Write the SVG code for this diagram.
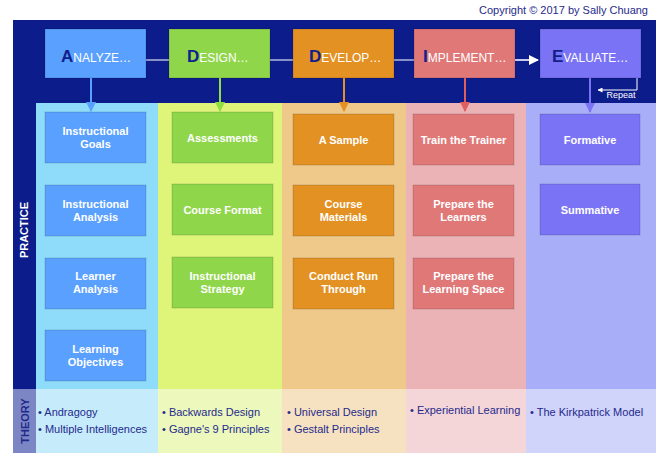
<svg xmlns="http://www.w3.org/2000/svg" width="669" height="468" viewBox="0 0 669 468">
<style>
text{font-family:"Liberation Sans",Arial,sans-serif}
.b{stroke:rgba(0,0,0,0.15);stroke-width:1}
.t{fill:#fff;font-size:11px;font-weight:bold;text-anchor:middle}
.h{fill:#fff;font-size:12px;text-anchor:middle}
.hb{fill:#101f8c;font-size:17px;font-weight:bold}
.th{fill:#1f2a8c;font-size:11px}
.lbl{fill:#fff;font-size:11px;font-weight:bold}
</style>
<defs>
<marker id="ah" viewBox="0 0 10 10" refX="9" refY="5" markerWidth="5" markerHeight="5" orient="auto"><path d="M0,0L10,5L0,10z" fill="context-stroke"/></marker>
<marker id="aw" viewBox="0 0 10 10" refX="9" refY="5" markerWidth="5" markerHeight="5" orient="auto"><path d="M0,0L10,5L0,10z" fill="#fff"/></marker>
</defs>
<rect width="669" height="468" fill="#fff"/>
<text x="648" y="14" font-size="11" fill="#1f2a8c" text-anchor="end">Copyright © 2017 by Sally Chuang</text>
<rect x="13" y="20" width="643" height="370" fill="#0c1c8a"/>
<rect x="13" y="389" width="23" height="64" fill="#7d86c4"/>
<g id="cols">
<rect x="36" y="103" width="122" height="286" fill="#8fdcfa"/>
<rect x="158" y="103" width="124" height="286" fill="#def57a"/>
<rect x="282" y="103" width="124" height="286" fill="#eec98a"/>
<rect x="406" y="103" width="120" height="286" fill="#ecb3b6"/>
<rect x="526" y="103" width="130" height="286" fill="#a8aef8"/>
<rect x="36" y="389" width="122" height="64" fill="#c6ecfc"/>
<rect x="158" y="389" width="124" height="64" fill="#ecf8bc"/>
<rect x="282" y="389" width="124" height="64" fill="#f6e2c0"/>
<rect x="406" y="389" width="120" height="64" fill="#f5d6d8"/>
<rect x="526" y="389" width="130" height="64" fill="#d0d3fa"/>
</g>
<text class="lbl" transform="translate(28,230) rotate(-90)" text-anchor="middle">PRACTICE</text>
<text class="lbl" transform="translate(29,421) rotate(-90)" text-anchor="middle" fill="#1f2a8c" style="fill:#1f2a8c">THEORY</text>
<g id="connectors" fill="none" stroke-width="2">
<line x1="146" y1="60" x2="169" y2="60" stroke="#8890c8"/>
<line x1="270" y1="60" x2="293" y2="60" stroke="#8890c8"/>
<line x1="394" y1="60" x2="414" y2="60" stroke="#8890c8"/>
<line x1="515" y1="60" x2="538" y2="60" stroke="#c8ccee" marker-end="url(#aw)"/>
<line x1="91" y1="78" x2="91" y2="111" stroke="#5aa0ff" marker-end="url(#ah)"/>
<line x1="220" y1="78" x2="220" y2="111" stroke="#8fe040" marker-end="url(#ah)"/>
<line x1="344" y1="78" x2="344" y2="111" stroke="#e39122" marker-end="url(#ah)"/>
<line x1="465" y1="78" x2="465" y2="111" stroke="#e06060" marker-end="url(#ah)"/>
<line x1="590" y1="78" x2="590" y2="112" stroke="#7b73f5" marker-end="url(#ah)"/>
<polyline points="637,78 637,90 598,90" stroke="#fff" stroke-width="1" marker-end="url(#aw)"/>
</g>
<text x="621" y="98" font-size="9" fill="#fff" text-anchor="middle">Repeat</text>
<g id="analyze"><rect class="b" x="45" y="29" width="101" height="49" fill="#5aa0ff"/><text x="61" y="62" class="hb">A<tspan class="h" style="fill:#fff;font-size:12px;font-weight:normal">NALYZE…</tspan></text></g>
<g id="design"><rect class="b" x="169" y="29" width="101" height="49" fill="#8fd64a"/><text x="187" y="62" class="hb">D<tspan style="fill:#fff;font-size:12px;font-weight:normal">ESIGN…</tspan></text></g>
<g id="develop"><rect class="b" x="293" y="29" width="101" height="49" fill="#e39122"/><text x="309" y="62" class="hb">D<tspan style="fill:#fff;font-size:12px;font-weight:normal">EVELOP…</tspan></text></g>
<g id="implement"><rect class="b" x="414" y="29" width="101" height="49" fill="#e07878"/><text x="423" y="62" class="hb">I<tspan style="fill:#fff;font-size:12px;font-weight:normal">MPLEMENT…</tspan></text></g>
<g id="evaluate"><rect class="b" x="540" y="29" width="101" height="49" fill="#7b73f5"/><text x="552" y="62" class="hb">E<tspan style="fill:#fff;font-size:12px;font-weight:normal">VALUATE…</tspan></text></g>
<g id="a1"><rect class="b" x="45" y="112" width="101" height="51" fill="#5aa0ff"/><text class="t" x="95.5" y="135">Instructional<tspan x="95.5" dy="13">Goals</tspan></text></g>
<g id="a2"><rect class="b" x="45" y="185" width="101" height="51" fill="#5aa0ff"/><text class="t" x="95.5" y="208">Instructional<tspan x="95.5" dy="13">Analysis</tspan></text></g>
<g id="a3"><rect class="b" x="45" y="258" width="101" height="51" fill="#5aa0ff"/><text class="t" x="95.5" y="280">Learner<tspan x="95.5" dy="13">Analysis</tspan></text></g>
<g id="a4"><rect class="b" x="45" y="330" width="101" height="51" fill="#5aa0ff"/><text class="t" x="95.5" y="353">Learning<tspan x="95.5" dy="13">Objectives</tspan></text></g>
<g id="d1"><rect class="b" x="172" y="112" width="101" height="51" fill="#8fd64a"/><text class="t" x="222.5" y="142">Assessments</text></g>
<g id="d2"><rect class="b" x="172" y="184" width="101" height="51" fill="#8fd64a"/><text class="t" x="222.5" y="214">Course Format</text></g>
<g id="d3"><rect class="b" x="172" y="257" width="101" height="51" fill="#8fd64a"/><text class="t" x="222.5" y="280">Instructional<tspan x="222.5" dy="13">Strategy</tspan></text></g>
<g id="v1"><rect class="b" x="293" y="114" width="101" height="51" fill="#e39122"/><text class="t" x="343.5" y="144">A Sample</text></g>
<g id="v2"><rect class="b" x="293" y="185" width="101" height="51" fill="#e39122"/><text class="t" x="343.5" y="208">Course<tspan x="343.5" dy="13">Materials</tspan></text></g>
<g id="v3"><rect class="b" x="293" y="258" width="101" height="51" fill="#e39122"/><text class="t" x="343.5" y="280">Conduct Run<tspan x="343.5" dy="13">Through</tspan></text></g>
<g id="i1"><rect class="b" x="413" y="114" width="101" height="51" fill="#e07878"/><text class="t" x="463.5" y="144">Train the Trainer</text></g>
<g id="i2"><rect class="b" x="413" y="185" width="101" height="51" fill="#e07878"/><text class="t" x="463.5" y="208">Prepare the<tspan x="463.5" dy="13">Learners</tspan></text></g>
<g id="i3"><rect class="b" x="413" y="258" width="101" height="51" fill="#e07878"/><text class="t" x="463.5" y="280">Prepare the<tspan x="463.5" dy="13">Learning Space</tspan></text></g>
<g id="e1"><rect class="b" x="540" y="114" width="100" height="51" fill="#7b73f5"/><text class="t" x="590" y="144">Formative</text></g>
<g id="e2"><rect class="b" x="540" y="184" width="100" height="51" fill="#7b73f5"/><text class="t" x="590" y="214">Summative</text></g>
<g id="theory">
<text class="th" x="38" y="416">• Andragogy</text>
<text class="th" x="38" y="433">• Multiple Intelligences</text>
<text class="th" x="162" y="416">• Backwards Design</text>
<text class="th" x="162" y="433">• Gagne's 9 Principles</text>
<text class="th" x="287" y="416">• Universal Design</text>
<text class="th" x="287" y="433">• Gestalt Principles</text>
<text class="th" x="410" y="414">• Experiential Learning</text>
<text class="th" x="530" y="416">• The Kirkpatrick Model</text>
</g>
</svg>
